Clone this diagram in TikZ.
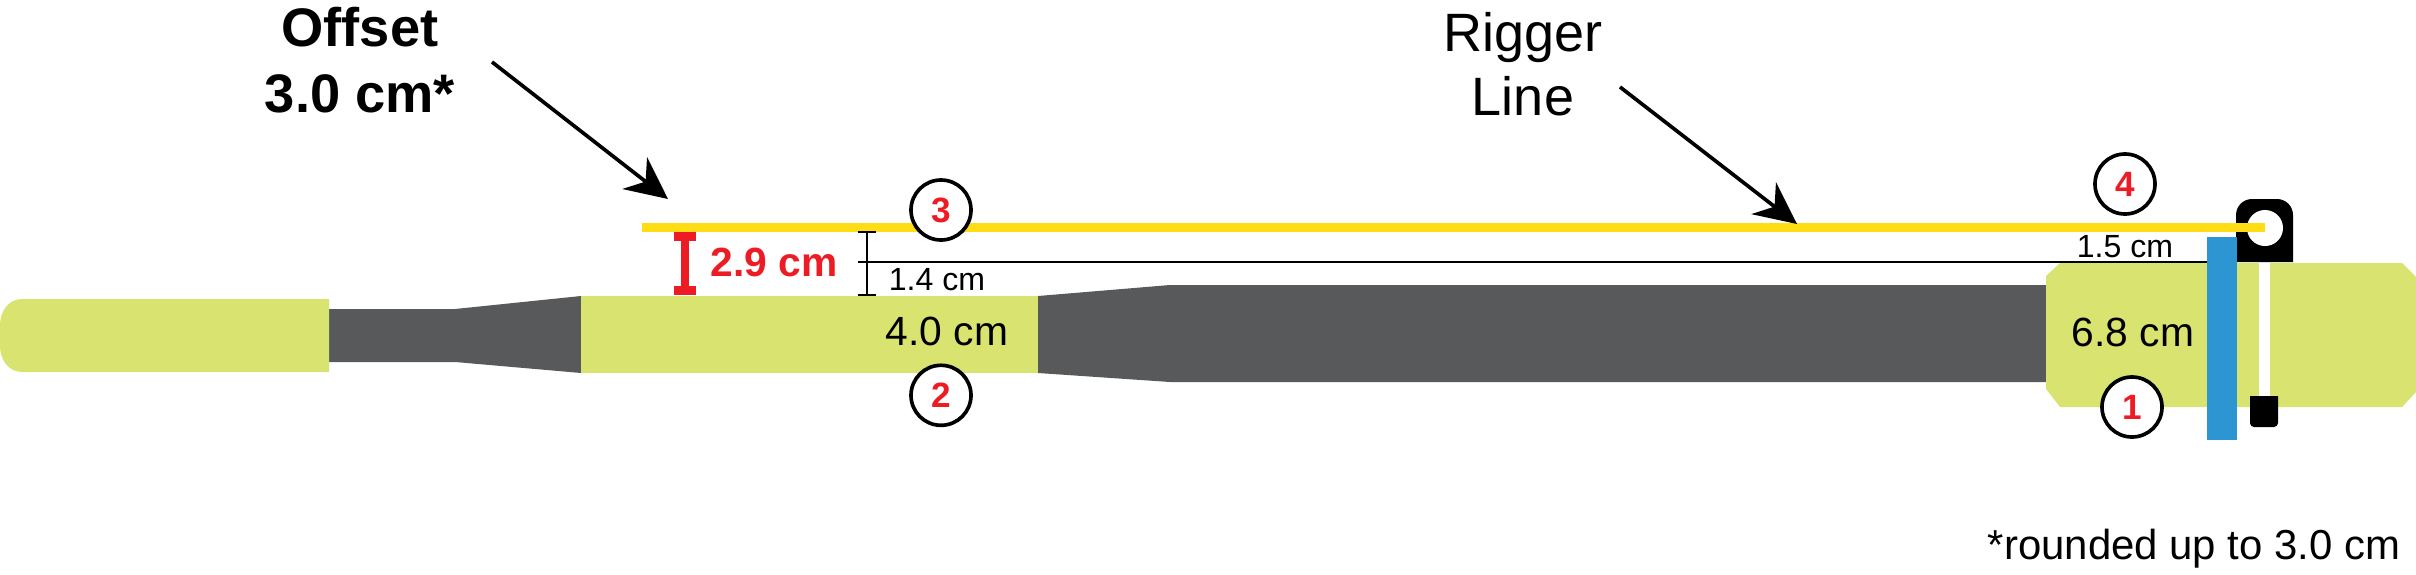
\documentclass[tikz,border=0pt]{standalone}
\usepackage{fontspec}
\setmainfont{Liberation Sans}
\usetikzlibrary{positioning,arrows.meta}

\definecolor{gripgreen}{HTML}{D9E36F}
\definecolor{shaftgrey}{HTML}{58595B}
\definecolor{riggeryellow}{HTML}{FFDD15}
\definecolor{offsetred}{HTML}{ED1C24}
\definecolor{strapblue}{HTML}{2E95D3}

\begin{document}
\begin{tikzpicture}[
    x=0.025cm, y=-0.025cm,
    badgenode/.style={circle, draw=black, fill=white, line width=2.6pt, minimum size=1.5cm, inner sep=0pt, text=offsetred, font=\fontsize{25}{28}\selectfont\bfseries},
    measure/.style={anchor=base, inner sep=0pt, font=\fontsize{29}{32}\selectfont},
    smallmeasure/.style={anchor=base, inner sep=0pt, font=\fontsize{22.8}{26}\selectfont},
    thinline/.style={draw=black, line width=1.5pt},
    pointer/.style={-{Stealth[length=1.05cm, width=1cm, inset=.34cm]}, draw=black, line width=2.6pt}
    ]
        \useasboundingbox (0,0) rectangle (2416,574);

        %Handle
        \fill[shaftgrey] (329,309) -- (455,309) -- (581,296) -- (581,373) -- (455,362) -- (329,362) -- cycle;
        \fill[shaftgrey] (1038,296) -- (1170,285) -- (2046,285) -- (2046,382) -- (1170,382) -- (1038,373) -- cycle;
        \fill[gripgreen] (329,299) -- (22,299) .. controls (8,299) and (0,312) .. (0,325) -- (0,346) .. controls (0,359) and (8,372) .. (22,372) -- (329,372) -- cycle;
        \fill[gripgreen] (581,296) rectangle (1038,373);
        \fill[gripgreen] (2060,263) -- (2402,263) -- (2416,277) -- (2416,392) -- (2402,407) -- (2060,407) -- (2046,389) -- (2046,276) -- cycle;

        %Rigger
        \fill[white] (2259,263) rectangle (2270,397);
        \fill[black] (2250,396) -- (2278,396) [rounded corners=.1cm] -- (2278,427) -- (2250,427) [sharp corners] -- cycle;
        \fill[black] (2236,262) [rounded corners=.4cm] -- (2236,199) -- (2293,199) [sharp corners] -- (2293,262) -- cycle;
        \fill[white] (2265,228) circle (18);
        \fill[strapblue] (2207,237) rectangle (2237,440);
        \fill[riggeryellow] (642,223) rectangle (2265,232);

        %Measures
        \coordinate (dimTop) at (867,232);
        \coordinate (dimBottom) at (867,295);
        \coordinate (lineStart) at (858,262);
        \coordinate (lineEnd) at (2207,262);
        \draw[thinline] (lineStart) -- (lineEnd);
        \draw[thinline] (dimTop) -- (dimBottom);
        \draw[thinline] (858,232) -- (876,232);
        \draw[thinline] (858,295) -- (876,295);
        \fill[offsetred] (674,232) rectangle (696,241);
        \fill[offsetred] (674,286) rectangle (696,295);
        \fill[offsetred] (681,232) rectangle (689,295);

        %Nodes
        \node[badgenode] (badge3) at (941,210) {3};
        \node[badgenode] (badge2) [below=3.04cm of badge3] {2};
        \node[badgenode] (badge4) at (2125,184) {4};
        \node[badgenode] (badge1) at (2132,407) {1};

        \node[measure, text=offsetred, font=\fontsize{29}{32}\selectfont\bfseries] (offsetValue) at (774,276) {2.9 cm};
        \node[measure] (midWidth) at (947,345) {4.0 cm};
        \node[measure] (rearWidth) at (2133,346) {6.8 cm};
        \node[smallmeasure] (lowerGap) at (937,290) {1.4 cm};
        \node[smallmeasure] (upperGap) at (2125,257) {1.5 cm};
        \node[measure, font=\fontsize{29.8}{32}\selectfont] (roundNote) at (2194,559) {*rounded up to 3.0 cm};

        \node[align=center, inner sep=0pt, font=\fontsize{38.6}{47}\selectfont\bfseries] (offsetLabel) at (360,60) {Offset\\3.0 cm*};
        \node[align=center, inner sep=0pt, font=\fontsize{38.4}{45.5}\selectfont] (riggerLabel) at (1523,64) {Rigger\\Line};

        %Lines
        \coordinate (offsetFrom) at (492,62);
        \coordinate (offsetTo) at (668,199);
        \coordinate (riggerFrom) at (1620,87);
        \coordinate (riggerTo) at (1797,224);
        \draw[pointer] (offsetFrom) -- (offsetTo);
        \draw[pointer] (riggerFrom) -- (riggerTo);
    \end{tikzpicture}
\end{document}
